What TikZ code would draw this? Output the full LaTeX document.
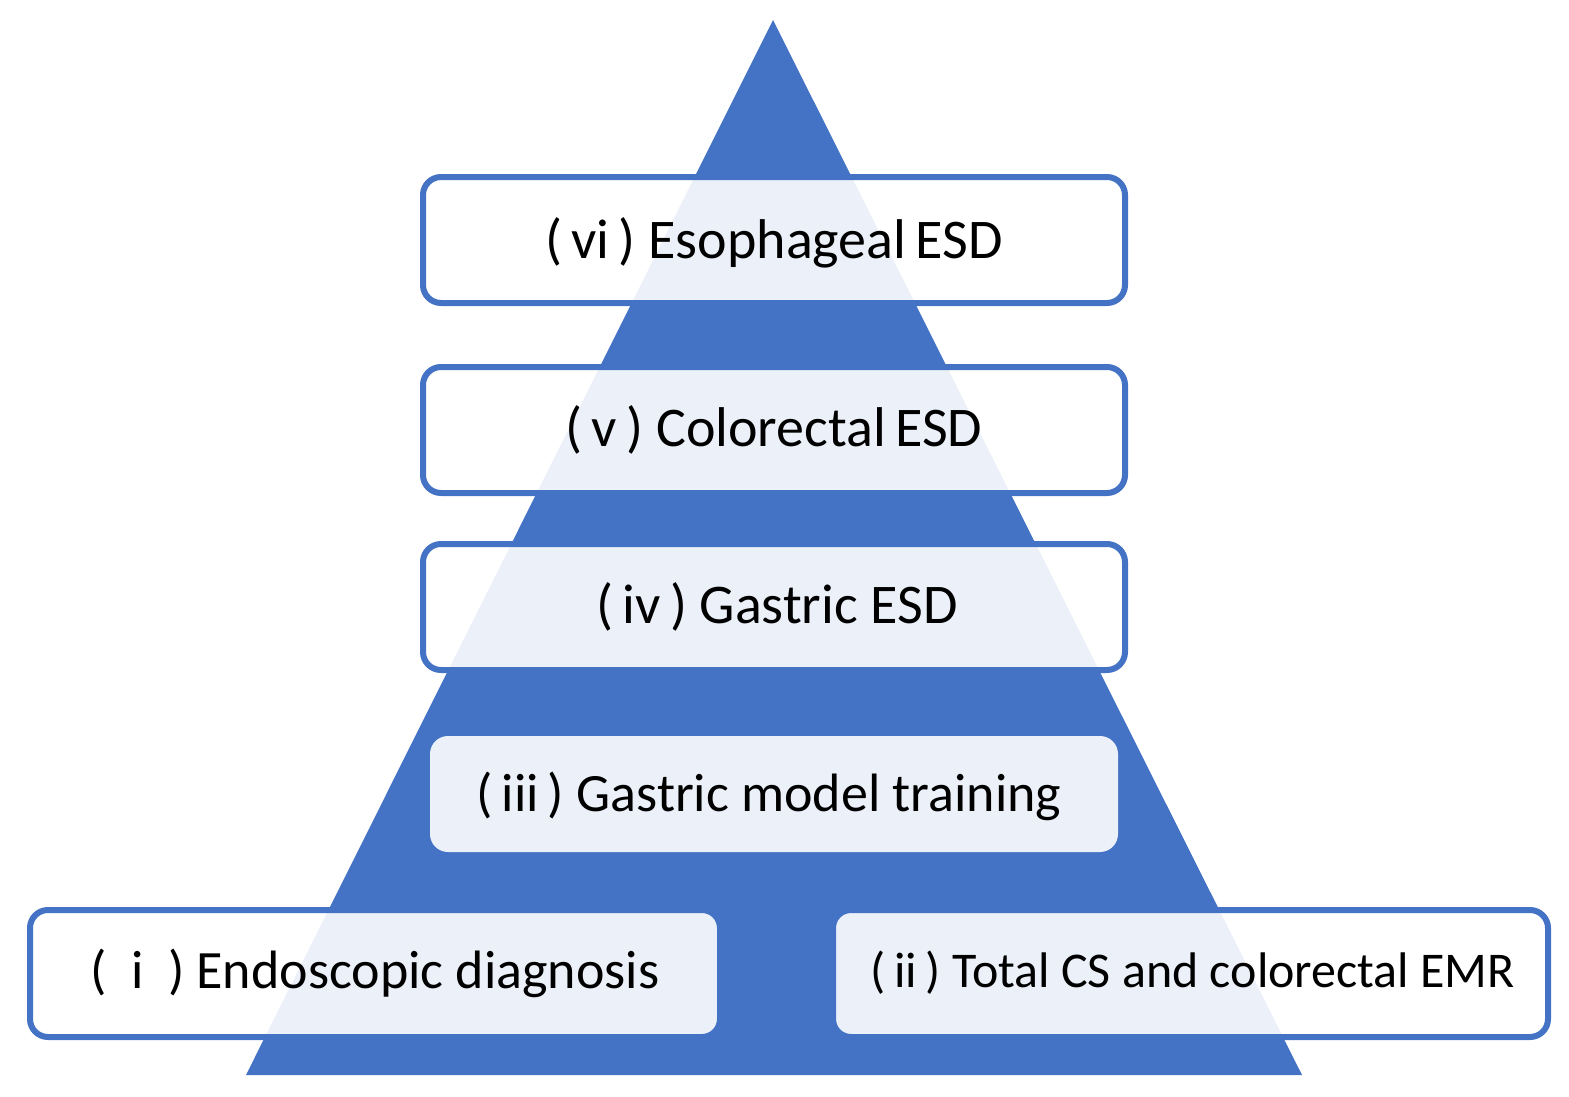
\documentclass[tikz,border=0pt]{standalone}
\usepackage{fontspec}
\setmainfont{Carlito}
\definecolor{pblue}{HTML}{4472C4}
\begin{document}
\begin{tikzpicture}[x=1pt,y=-1pt,
 box/.style={rounded corners=18pt,fill=white,fill opacity=0.9,text opacity=1},
 bbox/.style={box,draw=pblue,line width=6pt},
 lbl/.style={font=\fontsize{#1}{#1}\selectfont,text=black}]
\useasboundingbox (0,0) rectangle (1569,1097);
\fill[pblue] (773,20) coordinate (apex) -- (1302,1075) -- (246,1075) -- cycle;
\draw[bbox] (423,177) rectangle (1125,303) coordinate (b6);
\draw[bbox] (423,367) rectangle (1125,493) coordinate (b5);
\draw[bbox] (423,544) rectangle (1125,670) coordinate (b4);
\fill[box] (430,736) rectangle (1118,852);
\draw[bbox] (30,910) rectangle (720,1037);
\draw[bbox] (833,910) rectangle (1548,1037);
\node[lbl=56] (t6) at (774,243) {(\,vi\,) Esophageal\,ESD};
\node[lbl=56] (t5) at (774,430) {(\,v\,) Colorectal\,ESD};
\node[lbl=56] (t4) at (777,607) {(\,iv\,) Gastric ESD};
\node[lbl=54] (t3) at (769,796) {(\,iii\,) Gastric model training};
\node[lbl=54] (t1) at (375,973) {(\ \ i\ \ ) Endoscopic diagnosis};
\node[lbl=50] (t2) at (1193,973) {(\,ii\,) Total CS and colorectal EMR};
\end{tikzpicture}
\end{document}
